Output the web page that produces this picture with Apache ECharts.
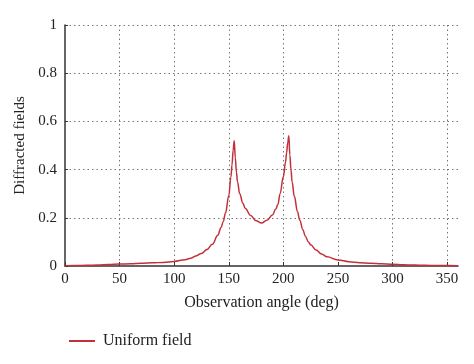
<!DOCTYPE html>
<html>
<head>
<meta charset="utf-8">
<script src="https://cdn.jsdelivr.net/npm/echarts@6/dist/echarts.min.js"></script>
<style>
html,body{margin:0;padding:0;background:#fff;}
#chart{width:474px;height:364px;}
</style>
</head>
<body>
<div id="chart"></div>
<script>
const angles = [0,10,20,30,40,50,60,70,80,90,100,110,115,120,125,130,135,140,143,145,147,150,152,153,154,155,156,157,158,160,163,165,170,175,180,185,190,193,195,197,200,202,203,204,205,206,207,208,210,213,215,218,220,223,225,230,235,240,250,260,270,280,290,300,310,320,330,340,350,360];
const fields = [0.001,0.002,0.003,0.004,0.006,0.008,0.009,0.011,0.013,0.015,0.019,0.026,0.032,0.042,0.052,0.068,0.09,0.128,0.16,0.185,0.22,0.29,0.37,0.42,0.48,0.52,0.45,0.39,0.35,0.30,0.26,0.24,0.21,0.188,0.178,0.19,0.212,0.235,0.255,0.30,0.37,0.43,0.47,0.51,0.54,0.46,0.40,0.35,0.29,0.225,0.19,0.15,0.125,0.10,0.088,0.066,0.05,0.038,0.025,0.018,0.014,0.011,0.009,0.007,0.005,0.004,0.003,0.002,0.002,0.001];
const seriesName = 'Uniform field';
const xTitle = 'Observation angle (deg)';
const yTitle = 'Diffracted fields';

const chart = echarts.init(document.getElementById('chart'), null, {renderer:'canvas'});
const font = "'Liberation Serif', 'DejaVu Serif', serif";
chart.setOption({
  animation: false,
  backgroundColor: '#ffffff',
  grid: {left: 65, right: 16, top: 25, bottom: 98, containLabel: false},
  legend: {
    left: 64, top: 328,
    icon: 'rect', itemWidth: 26, itemHeight: 2, itemGap: 10,
    itemStyle: {borderWidth: 0},
    textStyle: {fontFamily: font, fontSize: 16, color: '#222', padding: [0, 0, 0, 3]},
    data: [seriesName]
  },
  xAxis: {
    type: 'value', min: 0, max: 360, interval: 50,
    name: xTitle, nameLocation: 'middle', nameGap: 29,
    nameTextStyle: {fontFamily: font, fontSize: 16, color: '#222'},
    axisLine: {show: true, lineStyle: {color: '#333', width: 1.5}},
    axisTick: {show: true, inside: true, length: 4, lineStyle: {color: '#333'}},
    axisLabel: {fontFamily: font, fontSize: 15, color: '#222', margin: 6, showMaxLabel: false},
    splitLine: {show: true, showMinLine: false, showMaxLine: false, lineStyle: {color: '#777', type: [1.5, 3], width: 1}}
  },
  yAxis: {
    type: 'value', min: 0, max: 1, interval: 0.2,
    name: yTitle, nameLocation: 'middle', nameGap: 27,
    nameTextStyle: {fontFamily: font, fontSize: 15, color: '#222'},
    axisLine: {show: true, lineStyle: {color: '#333', width: 1.5}},
    axisTick: {show: true, inside: true, length: 3, lineStyle: {color: '#333'}},
    axisLabel: {fontFamily: font, fontSize: 15, color: '#222', margin: 8},
    splitLine: {show: true, showMinLine: false, showMaxLine: true, lineStyle: {color: '#777', type: [1.5, 3], width: 1}}
  },
  series: [{
    name: seriesName,
    type: 'line',
    data: angles.map((a, i) => [a, fields[i]]),
    smooth: 0.4,
    smoothMonotone: 'x',
    showSymbol: false,
    symbol: 'none',
    lineStyle: {color: '#c4303a', width: 1.5},
    itemStyle: {color: '#c4303a'}
  }]
});
</script>
</body>
</html>
